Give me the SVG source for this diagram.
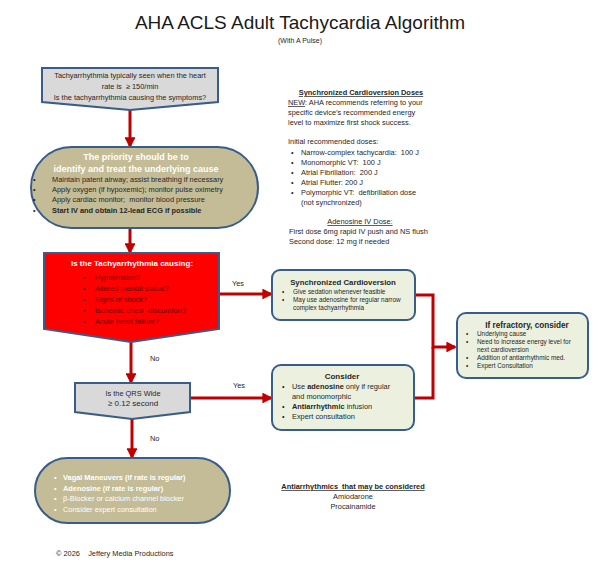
<svg xmlns="http://www.w3.org/2000/svg" width="600" height="568" viewBox="0 0 600 568">
<style>
text{font-family:"Liberation Sans",Arial,sans-serif;fill:#262626}
.box{stroke:#385d8a;stroke-width:2}
.gray{fill:#d9d9d9}
.tan{fill:#c4bc96}
.grn{fill:#ebf1de}
.redf{fill:#ff0000}
.c{stroke:#c00000;stroke-width:3;fill:none}
.t7{font-size:7.4px}
.t6{font-size:6.4px}
.b{font-weight:bold}
.w{fill:#ffffff}
.dr{fill:#600000}
.m{text-anchor:middle}
</style>
<defs>
<marker id="ah" viewBox="0 0 10 10" refX="8" refY="5" markerWidth="3.6" markerHeight="3.6" orient="auto" markerUnits="strokeWidth">
<path d="M0,0 L10,5 L0,10 z" fill="#c00000"/>
</marker>
</defs>
<rect width="600" height="568" fill="#ffffff"/>
<g id="title">
<text x="300" y="29" class="m" style="font-size:19px;fill:#1a1a1a">AHA ACLS Adult Tachycardia Algorithm</text>
<text x="300" y="43" class="m" style="font-size:7px">(With A Pulse)</text>
</g>
<g id="connectors">
<line class="c" x1="130" y1="110" x2="130" y2="146" marker-end="url(#ah)"/>
<line class="c" x1="130" y1="229" x2="130" y2="252" marker-end="url(#ah)"/>
<line class="c" x1="131" y1="342" x2="131" y2="382" marker-end="url(#ah)"/>
<line class="c" x1="132" y1="419" x2="132" y2="457" marker-end="url(#ah)"/>
<line class="c" x1="219" y1="294" x2="271" y2="294" marker-end="url(#ah)"/>
<line class="c" x1="191" y1="398" x2="271" y2="398" marker-end="url(#ah)"/>
<polyline class="c" points="415,295 433,295 433,347 455,347" marker-end="url(#ah)"/>
<polyline class="c" points="414,398 433,398 433,347"/>
<text x="232" y="286" class="t7">Yes</text>
<text x="233" y="388" class="t7">Yes</text>
<text x="150" y="361" class="t7">No</text>
<text x="150" y="441" class="t7">No</text>
</g>
<g id="n1">
<path class="box gray" d="M42,68 H218 V102 L130,110 L42,102 Z"/>
<text x="130" y="78" class="t7 m">Tachyarrhythmia typically seen when the heart</text>
<text x="130" y="89" class="t7 m">rate is &#160;≥ 150/min</text>
<text x="130" y="100" class="t7 m">Is the tachyarrhythmia causing the symptoms?</text>
</g>
<g id="n2">
<rect class="box tan" x="31" y="147" width="227" height="81" rx="40.5"/>
<text x="136" y="160" class="m b w" style="font-size:9px">The priority should be to</text>
<text x="136" y="172" class="m b w" style="font-size:9px">identify and treat the underlying cause</text>
<g class="t7">
<text x="33" y="182">•</text><text x="52" y="182">Maintain patent airway; assist breathing if necessary</text>
<text x="33" y="192">•</text><text x="52" y="192">Apply oxygen (if hypoxemic); monitor pulse oximetry</text>
<text x="33" y="202">•</text><text x="52" y="202">Apply cardiac monitor; &#160;monitor blood pressure</text>
<text x="33" y="213">•</text><text x="52" y="213" class="b">Start IV and obtain 12-lead ECG if possible</text>
</g>
</g>
<g id="n3">
<path class="box redf" d="M44,253 H219 V329 L131,342 L44,329 Z"/>
<text x="132" y="266" class="m b w" style="font-size:8px">Is the Tachyarrhythmia causing:</text>
<g class="t7">
<text x="83" y="280" class="dr">•</text><text x="95" y="280" class="dr">Hypotension?</text>
<text x="83" y="291" class="dr">•</text><text x="95" y="291" class="dr">Altered mental status?</text>
<text x="83" y="302" class="dr">•</text><text x="95" y="302" class="dr">Signs of shock?</text>
<text x="83" y="313" class="dr">•</text><text x="95" y="313" class="dr">Ischemic chest &#160;discomfort?</text>
<text x="83" y="324" class="dr">•</text><text x="95" y="324" class="dr">Acute heart failure?</text>
</g>
</g>
<g id="n4">
<rect class="box grn" x="272" y="270" width="143" height="50" rx="8"/>
<text x="343" y="285" class="m b" style="font-size:7.8px">Synchronized Cardioversion</text>
<g class="t6">
<text x="282" y="294">•</text><text x="293" y="294">Give sedation whenever feasible</text>
<text x="282" y="302">•</text><text x="293" y="302">May use adenosine for regular narrow</text>
<text x="293" y="310">complex tachyarrhythmia</text>
</g>
</g>
<g id="n5">
<rect class="box grn" x="457" y="313" width="131" height="65" rx="9"/>
<text x="527" y="328" class="m b" style="font-size:8.2px">If refractory, consider</text>
<g class="t6">
<text x="466" y="336">•</text><text x="477" y="336">Underlying cause</text>
<text x="466" y="344">•</text><text x="477" y="344">Need to increase energy level for</text>
<text x="477" y="352">next cardioversion</text>
<text x="466" y="360">•</text><text x="477" y="360">Addition of antiarrhythmic med.</text>
<text x="466" y="368">•</text><text x="477" y="368">Expert Consultation</text>
</g>
</g>
<g id="n6">
<path class="box gray" d="M75,383 H190 V412 L132,419 L75,412 Z"/>
<text x="133" y="396" class="t7 m">Is the QRS Wide</text>
<text x="133" y="406" class="m" style="font-size:8px">≥ 0.12 second</text>
</g>
<g id="n7">
<rect class="box grn" x="272" y="365" width="142" height="65" rx="9"/>
<text x="342" y="379" class="m b" style="font-size:8px">Consider</text>
<g class="t7">
<text x="282" y="389">•</text><text x="292" y="389">Use <tspan class="b">adenosine</tspan> only if regular</text>
<text x="292" y="399">and monomorphic</text>
<text x="282" y="409">•</text><text x="292" y="409"><tspan class="b">Antiarrhythmic</tspan> infusion</text>
<text x="282" y="419">•</text><text x="292" y="419">Expert consultation</text>
</g>
</g>
<g id="n8">
<rect class="box tan" x="35" y="458" width="195" height="65" rx="32.5"/>
<g class="t7">
<text x="54" y="480" class="w">•</text><text x="63" y="480" class="w b">Vagal Maneuvers (if rate is regular)</text>
<text x="54" y="491" class="w">•</text><text x="63" y="491" class="w b">Adenosine (if rate is regular)</text>
<text x="54" y="501" class="w">•</text><text x="63" y="501" class="w">β-Blocker or calcium channel blocker</text>
<text x="54" y="512" class="w">•</text><text x="63" y="512" class="w">Consider expert consultation</text>
</g>
</g>
<g id="doses" class="t7">
<text x="361" y="95" class="m b" text-decoration="underline">Synchronized Cardioversion Doses</text>
<text x="288" y="105"><tspan text-decoration="underline">NEW</tspan>: AHA recommends referring to your</text>
<text x="288" y="115">specific device’s recommended energy</text>
<text x="288" y="125">level to maximize first shock success.</text>
<text x="288" y="144">Initial recommended doses:</text>
<text x="291" y="155">•</text><text x="301" y="155">Narrow-complex tachycardia: &#160;100 J</text>
<text x="291" y="165">•</text><text x="301" y="165">Monomorphic VT: &#160;100 J</text>
<text x="291" y="175">•</text><text x="301" y="175">Atrial Fibrillation: &#160;200 J</text>
<text x="291" y="185">•</text><text x="301" y="185">Atrial Flutter: 200 J</text>
<text x="291" y="195">•</text><text x="301" y="195">Polymorphic VT: &#160;defibrillation dose</text>
<text x="301" y="205">(not synchronized)</text>
<text x="360" y="224" class="m" text-decoration="underline">Adenosine IV Dose:</text>
<text x="289" y="234">First dose 6mg rapid IV push and NS flush</text>
<text x="289" y="244">Second dose: 12 mg if needed</text>
</g>
<g id="antiarrhythmics" class="t7">
<text x="353" y="489" class="m b" text-decoration="underline">Antiarrhythmics &#160;that may be considered</text>
<text x="353" y="499" class="m">Amiodarone</text>
<text x="353" y="509" class="m">Procainamide</text>
</g>
<text x="56" y="556" class="t7">© 2026 &#160; &#160;Jeffery Media Productions</text>
</svg>
